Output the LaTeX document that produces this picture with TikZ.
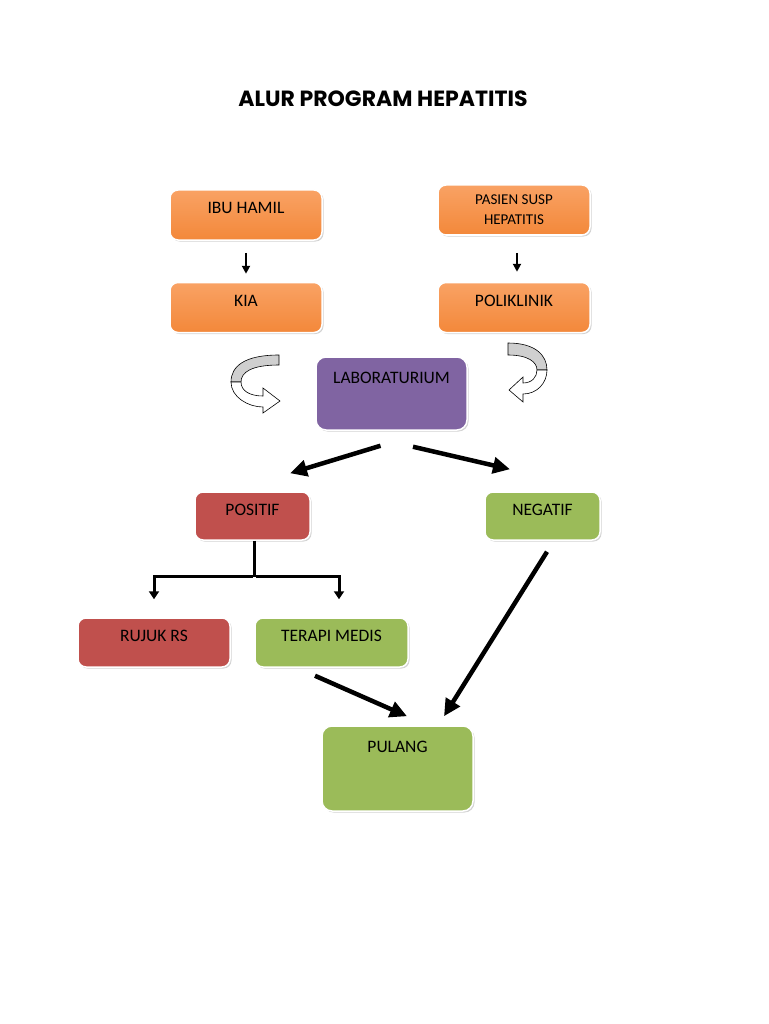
\documentclass[tikz,border=0pt]{standalone}
\usepackage{fontspec}
\setmainfont{Carlito}
\newfontfamily\titlefont{Poppins}
\usetikzlibrary{arrows.meta,positioning,shadows}

\definecolor{orangetop}{HTML}{F9A264}
\definecolor{orangebot}{HTML}{F3883A}
\definecolor{labpurple}{HTML}{8064A2}
\definecolor{posred}{HTML}{C0504D}
\definecolor{neggreen}{HTML}{9BBB59}
\definecolor{ribbongray}{HTML}{CFCFCF}

\begin{document}
\begin{tikzpicture}[x=1pt,y=-1pt,every node/.style={font=\fontsize{17.5}{20}\selectfont},
    box/.style={draw=white,line width=1.5pt,rounded corners=8pt,inner sep=0pt,
      drop shadow={shadow xshift=1.5pt,shadow yshift=-1.5pt,opacity=.35}},
    orangebox/.style={box,top color=orangetop,bottom color=orangebot,minimum width=152pt,text height=24pt,text depth=26pt},
    labbox/.style={box,fill=labpurple,rounded corners=10pt,minimum width=151pt,text height=26pt,text depth=47pt},
    redbox/.style={box,fill=posred,minimum width=115pt,text height=23pt,text depth=25pt},
    greenbox/.style={box,fill=neggreen,minimum width=115pt,text height=23pt,text depth=25pt},
    bigarrow/.style={line width=4.5pt,-{Triangle[length=17pt,width=16pt]}},
    smallarrow/.style={line width=2pt,-{Triangle[length=8pt,width=8pt]}},
    branch/.style={line width=3pt}]

    \useasboundingbox (0,0) rectangle (768,1024);

    \node[anchor=base] (TITLE) at (383,107) {\titlefont\bfseries\fontsize{22}{26}\selectfont ALUR PROGRAM HEPATITIS};

    \node[orangebox] (IBU) at (246,215) {IBU HAMIL};
    \node[box,top color=orangetop,bottom color=orangebot,minimum width=152pt,minimum height=50pt,align=center,
      font=\fontsize{15}{20}\selectfont] (PASIEN) at (514,210) {PASIEN SUSP\\HEPATITIS};
    \node[orangebox] (KIA) at (246,307.5) {KIA};
    \node[orangebox] (POLI) at (514,307.5) {POLIKLINIK};
    \node[labbox] (LAB) at (391.5,393.5) {LABORATURIUM};
    \node[redbox] (POS) at (252.5,516) {POSITIF};
    \node[greenbox] (NEG) at (542.5,516) {NEGATIF};
    \node[redbox,minimum width=152pt,text depth=26pt] (RUJUK) at (154,642.5) {RUJUK RS};
    \node[greenbox,minimum width=153pt,text depth=26pt] (TERAPI) at (331.5,642.5) {TERAPI MEDIS};
    \node[greenbox,rounded corners=10pt,minimum width=151pt,text height=26pt,text depth=59pt] (PULANG) at (397.5,768.5) {PULANG};

    \draw[smallarrow] ([yshift=-12pt]IBU.south) -- ([yshift=8pt]KIA.north);
    \draw[smallarrow] ([xshift=3pt,yshift=-17pt]PASIEN.south) -- ([xshift=3pt,yshift=10pt]POLI.north);

    % curved arrows beside the lab
    \draw[line width=.6pt,fill=ribbongray] (279,355) .. controls (245,355) and (231,366) .. (231,382)
      -- (241,382) .. controls (241,372) and (252,365) .. (279,365) -- cycle;
    \draw[line width=.6pt,fill=white] (231,382) .. controls (231,397) and (248,407) .. (263,407)
      -- (263,413) -- (280,401) -- (263,388) -- (263,396) .. controls (250,396) and (241,391) .. (241,382) -- cycle;
    \draw[line width=.6pt,fill=ribbongray] (508,343) .. controls (535,343) and (547,355) .. (547,370)
      -- (537,370) .. controls (537,362) and (528,355) .. (508,355) -- cycle;
    \draw[line width=.6pt,fill=white] (547,370) .. controls (547,383) and (537,394) .. (523,394)
      -- (523,402) -- (509,390) -- (523,377) -- (523,383) .. controls (532,383) and (537,377) .. (537,370) -- cycle;

    \draw[bigarrow] ([xshift=-11pt,yshift=-15pt]LAB.south) -- ([xshift=37.5pt,yshift=18pt]POS.north);
    \draw[bigarrow] ([xshift=21.5pt,yshift=-16pt]LAB.south) -- ([xshift=-32.5pt,yshift=22pt]NEG.north);

    \draw[branch] (POS.south) ++(1.5,0) -- ++(0,36) coordinate (FORK);
    \draw[branch,-{Triangle[length=8pt,width=10pt]}] ([xshift=-1.5pt]FORK) -| ([yshift=18pt]RUJUK.north);
    \draw[branch,-{Triangle[length=8pt,width=10pt]}] ([xshift=1.5pt]FORK) -| ([xshift=7.5pt,yshift=18pt]TERAPI.north);

    \draw[bigarrow] ([xshift=-16.5pt,yshift=-8pt]TERAPI.south) -- ([xshift=9.5pt,yshift=9pt]PULANG.north);
    \draw[bigarrow] ([xshift=4.5pt,yshift=-11pt]NEG.south) -- ([xshift=46.5pt,yshift=9pt]PULANG.north);
\end{tikzpicture}
\end{document}
